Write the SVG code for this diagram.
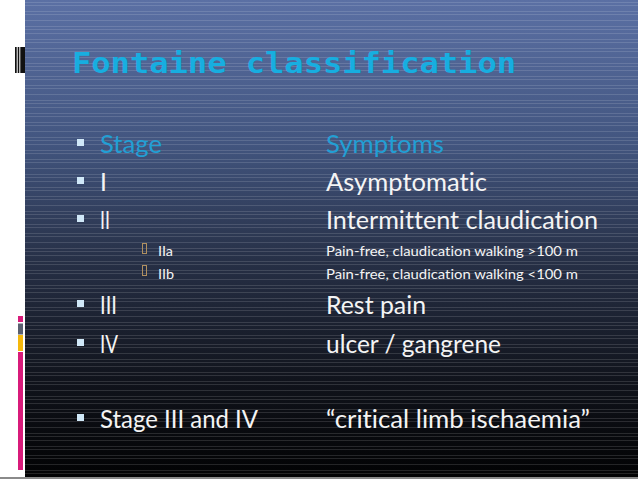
<svg xmlns="http://www.w3.org/2000/svg" width="638" height="479" viewBox="0 0 638 479">
<defs>
<linearGradient id="bg" x1="0" y1="0" x2="0" y2="1">
<stop offset="0" stop-color="#5b70a4"/>
<stop offset="0.3" stop-color="#42557f"/>
<stop offset="0.55" stop-color="#262f45"/>
<stop offset="0.8" stop-color="#10131b"/>
<stop offset="1" stop-color="#020203"/>
</linearGradient>
<pattern id="lines" patternUnits="userSpaceOnUse" x="0" y="0" width="638" height="37">
<g stroke="#ffffff" stroke-opacity="0.13" stroke-width="1">
<line x1="0" y1="2.5" x2="638" y2="2.5"/>
<line x1="0" y1="5.5" x2="638" y2="5.5"/>
<line x1="0" y1="11.5" x2="638" y2="11.5"/>
<line x1="0" y1="14.5" x2="638" y2="14.5"/>
<line x1="0" y1="20.5" x2="638" y2="20.5"/>
<line x1="0" y1="26.5" x2="638" y2="26.5"/>
<line x1="0" y1="29.5" x2="638" y2="29.5"/>
<line x1="0" y1="33.5" x2="638" y2="33.5"/>
</g>
</pattern>
</defs>
<style>
.t{font-family:Lato,"Open Sans","Noto Sans",sans-serif;fill:#f4f4f4;font-variant-ligatures:none;font-feature-settings:"liga" 0}
.big{font-size:24.5px}
.small{font-size:14px}
.head{fill:#229fd4}
.title{font-family:"DejaVu Sans Mono","Liberation Mono",monospace;font-weight:bold;font-size:29px;fill:#17aee0}
.sq{fill:#d0e8f8}
.box{fill:none;stroke:#b09060;stroke-width:1}
</style>
<rect x="0" y="0" width="638" height="479" fill="#ffffff"/>
<rect x="25" y="0" width="613" height="479" fill="url(#bg)"/>
<rect x="25" y="0" width="613" height="479" fill="url(#lines)"/>
<rect x="0" y="477" width="638" height="2" fill="#8a8a8a"/>
<g id="barcode">
<rect x="15" y="47" width="10" height="26" fill="#111111"/>
<rect x="16.7" y="47" width="1" height="26" fill="#ffffff"/>
<rect x="19.3" y="47" width="1" height="26" fill="#ffffff"/>
</g>
<g id="colorbars">
<rect x="18" y="316" width="5" height="6" fill="#d81b7a"/>
<rect x="18" y="323.5" width="5" height="11" fill="#5a6070"/>
<rect x="18" y="335" width="5" height="16" fill="#f5b80c"/>
<rect x="18" y="352" width="5" height="118" fill="#d81b7a"/>
</g>
<text id="title" class="title" x="72" y="73" textLength="444" lengthAdjust="spacingAndGlyphs">Fontaine classification</text>
<g id="row-head">
<rect class="sq" x="77" y="139" width="7" height="7"/>
<text class="t big head" x="100" y="153" textLength="62" lengthAdjust="spacingAndGlyphs">Stage</text>
<text class="t big head" x="326" y="153" textLength="118" lengthAdjust="spacingAndGlyphs">Symptoms</text>
</g>
<g id="row-I">
<rect class="sq" x="77" y="177" width="7" height="7"/>
<text class="t big" x="100" y="191">I</text>
<text class="t big" x="326" y="191" textLength="161" lengthAdjust="spacingAndGlyphs">Asymptomatic</text>
</g>
<g id="row-II">
<rect class="sq" x="77" y="215" width="7" height="7"/>
<text class="t big" x="100" y="229" textLength="10" lengthAdjust="spacingAndGlyphs">II</text>
<text class="t big" x="326" y="229" textLength="272" lengthAdjust="spacingAndGlyphs">Intermittent claudication</text>
</g>
<g id="row-IIa">
<rect class="box" x="142.5" y="243.5" width="4" height="10"/>
<text class="t small" x="158" y="256" textLength="15" lengthAdjust="spacingAndGlyphs">IIa</text>
<text class="t small" x="326" y="256" textLength="252" lengthAdjust="spacingAndGlyphs">Pain-free, claudication walking &gt;100 m</text>
</g>
<g id="row-IIb">
<rect class="box" x="142.5" y="265.5" width="4" height="10"/>
<text class="t small" x="158" y="279" textLength="16" lengthAdjust="spacingAndGlyphs">IIb</text>
<text class="t small" x="326" y="279" textLength="252" lengthAdjust="spacingAndGlyphs">Pain-free, claudication walking &lt;100 m</text>
</g>
<g id="row-III">
<rect class="sq" x="77" y="300" width="7" height="7"/>
<text class="t big" x="100" y="314" textLength="17" lengthAdjust="spacingAndGlyphs">III</text>
<text class="t big" x="326" y="314" textLength="100" lengthAdjust="spacingAndGlyphs">Rest pain</text>
</g>
<g id="row-IV">
<rect class="sq" x="77" y="339" width="7" height="7"/>
<text class="t big" x="100" y="353" textLength="18" lengthAdjust="spacingAndGlyphs">IV</text>
<text class="t big" x="326" y="353" textLength="175" lengthAdjust="spacingAndGlyphs">ulcer / gangrene</text>
</g>
<g id="row-cli">
<rect class="sq" x="77" y="414" width="7" height="7"/>
<text class="t big" x="100" y="428" textLength="158" lengthAdjust="spacingAndGlyphs">Stage III and IV</text>
<text class="t big" x="326" y="428" textLength="264" lengthAdjust="spacingAndGlyphs">“critical limb ischaemia”</text>
</g>
</svg>
